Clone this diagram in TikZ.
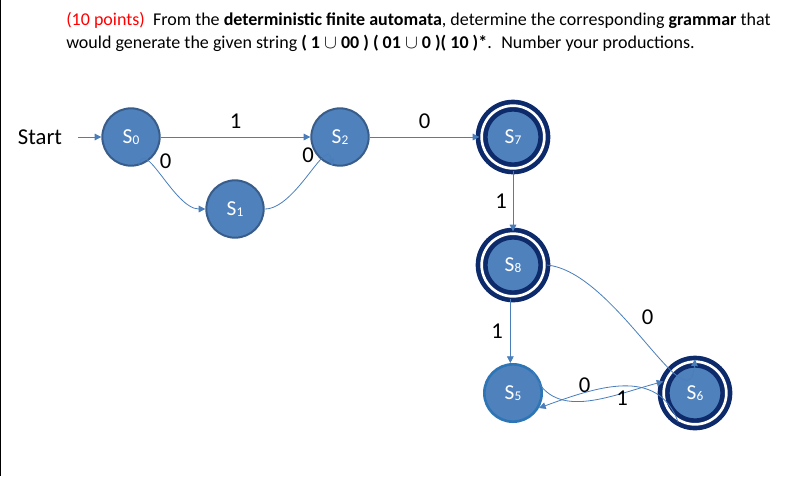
\documentclass[tikz,border=0pt]{standalone}
\usepackage{fontspec}
\setmainfont{Carlito}
\usetikzlibrary{arrows.meta}
\definecolor{nfill}{HTML}{4F81BD}
\definecolor{nborder}{HTML}{385D8A}
\definecolor{navy}{HTML}{0D2A6B}
\definecolor{edge}{HTML}{4A7EBB}
\definecolor{s5b}{HTML}{2E75B6}
\begin{document}
\begin{tikzpicture}[x=0.75pt,y=-0.75pt,
  st/.style={circle,fill=nfill,draw=nborder,line width=1.5pt,inner sep=0pt,text=white,font=\fontsize{16}{16}\selectfont, minimum size=43pt},
  acc/.style={st,double=white,double distance=2pt,draw=navy,line width=3.5pt},
  lbl/.style={font=\fontsize{17}{17}\selectfont},
  ed/.style={draw=edge,line width=0.6pt,-{Triangle[length=5pt,width=5pt]}}]
\useasboundingbox (0,0) rectangle (788,476);
\draw[line width=0.8pt] (0.5,0) -- (0.5,476);
\node[anchor=north west,align=left,font=\fontsize{13.5}{17}\selectfont,inner sep=0pt] (txt) at (66,12)
 {\textcolor{red}{(10 points)}\ \ From the \textbf{deterministic finite automata}, determine the corresponding \textbf{grammar} that\\
 would generate the given string \textbf{( 1 $\cup$ 00 ) ( 01 $\cup$ 0 )( 10 )*}. \ Number your productions.};
\node[st] (s0) at (131,137) {S\raisebox{-1pt}{\normalsize 0}};
\node[st] (s2) at (340,137) {S\raisebox{-1pt}{\normalsize 2}};
\node[st] (s1) at (235,209) {S\raisebox{-1pt}{\normalsize 1}};
\node[acc,minimum size=47pt] (s7) at (513,137) {S\raisebox{-1pt}{\normalsize 7}};
\node[acc,minimum size=47pt] (s8) at (513,265) {S\raisebox{-1pt}{\normalsize 8}};
\node[st,draw=s5b,line width=2pt] (s5) at (513,393) {S\raisebox{-1pt}{\normalsize 5}};
\node[acc,minimum size=47pt] (s6) at (695,393) {S\raisebox{-1pt}{\normalsize 6}};
\node[lbl] (start) at (40,137) {Start};
\coordinate (st0) at (78,137);
\draw[ed] (st0) -- (s0);
\draw[ed] (s0) -- node[lbl,above=3pt]{1} (s2);
\draw[ed] (s0.-75) to[out=80,in=180] node[lbl,pos=0.3,right=4pt]{0} (s1.west);
\draw[ed] (s1.east) to[out=0,in=100] node[lbl,pos=0.5,above=6pt]{0} (s2.-105);
\draw[ed] (s2) -- node[lbl,above=3pt]{0} (s7);
\draw[ed] (s7) -- node[lbl,left=1pt]{1} (s8);
\draw[ed] ([xshift=-2pt]s8.south) -- node[lbl,left=2pt]{1} ([xshift=-2pt]s5.north);
\draw[ed] (s8.east) to[out=-5,in=-95] node[lbl,pos=0.45,above right=1pt]{0} (s6.north);
\draw[ed] (s5.50) to[out=-70,in=-165,looseness=1.1] node[lbl,pos=0.5,above=3pt]{0} (s6.160);
\draw[ed] (s6.240) to[out=110,in=20,looseness=1.1] node[lbl,pos=0.5,below=0pt]{1} (s5.-30);
\end{tikzpicture}
\end{document}
